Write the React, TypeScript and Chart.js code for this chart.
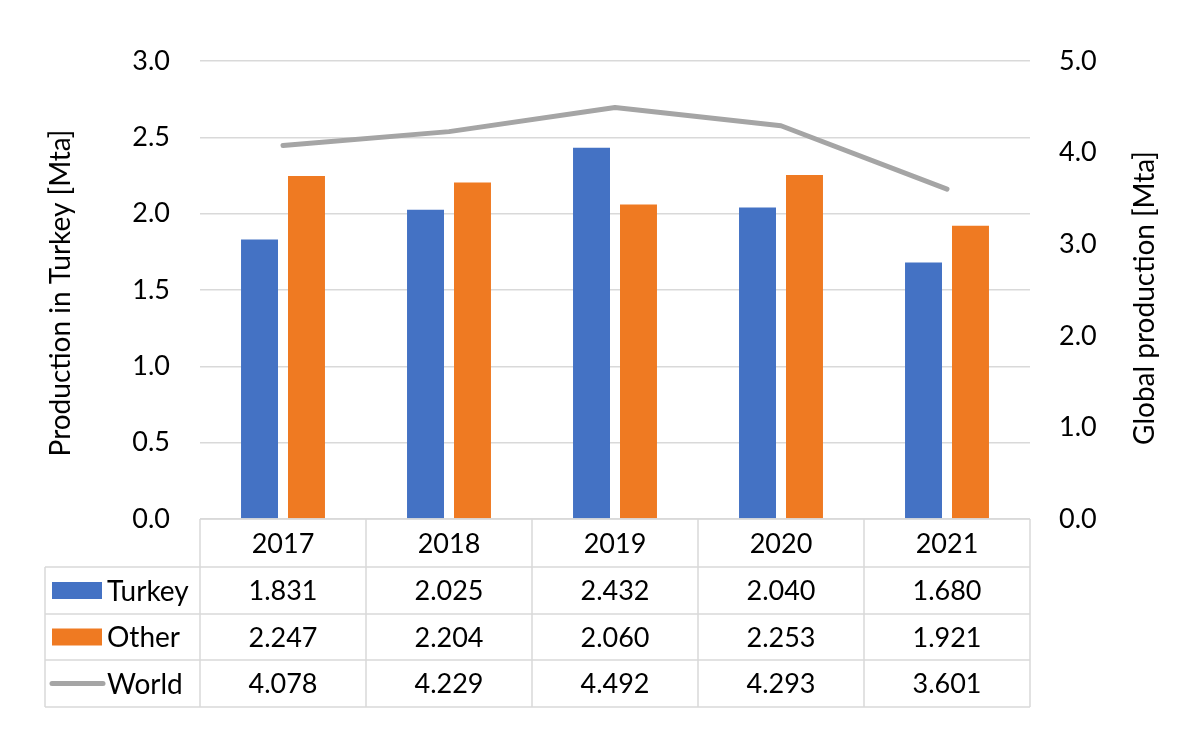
import React, { useEffect, useRef } from 'react';
import { Chart, registerables } from 'chart.js';

Chart.register(...registerables);

const years = ['2017', '2018', '2019', '2020', '2021'];
const turkey = [1.831, 2.025, 2.432, 2.040, 1.680];
const other = [2.247, 2.204, 2.060, 2.253, 1.921];
const world = [4.078, 4.229, 4.492, 4.293, 3.601];
const seriesNames = ['Turkey', 'Other', 'World'];

const BLUE = '#4472C4';
const ORANGE = '#EF7A22';
const GRAY = '#A5A5A5';
const GRID = '#D9D9D9';
const FONT = 'Lato';

const tablePlugin = {
  id: 'dataTable',
  afterDraw(chart: any) {
    const ctx = chart.ctx;
    const xs = chart.scales.x;
    const area = chart.chartArea;
    const top = area.bottom;
    const rows = [top, top + 48, top + 95, top + 141, top + 188];
    const tableLeft = 45;
    const n = years.length;
    const colW = (area.right - area.left) / n;
    ctx.save();
    ctx.strokeStyle = GRID;
    ctx.lineWidth = 1.5;
    const line = (x1: number, y1: number, x2: number, y2: number) => {
      ctx.beginPath();
      ctx.moveTo(x1, y1);
      ctx.lineTo(x2, y2);
      ctx.stroke();
    };
    line(area.left, rows[0], area.right, rows[0]);
    for (let i = 1; i < rows.length; i++) line(tableLeft, rows[i], area.right, rows[i]);
    for (let j = 0; j <= n; j++) {
      const xj = area.left + j * colW;
      line(xj, rows[0], xj, rows[4]);
    }
    line(tableLeft, rows[1], tableLeft, rows[4]);

    ctx.fillStyle = '#000';
    ctx.font = `27px ${FONT}`;
    ctx.textAlign = 'center';
    ctx.textBaseline = 'middle';
    years.forEach((y, i) => {
      ctx.fillText(y, xs.getPixelForValue(i), (rows[0] + rows[1]) / 2 + 1);
    });
    const data = [turkey, other, world];
    data.forEach((arr, r) => {
      const cy = (rows[r + 1] + rows[r + 2]) / 2 + 1;
      arr.forEach((v, i) => {
        ctx.fillText(v.toFixed(3), xs.getPixelForValue(i), cy);
      });
    });
    // legend keys
    ctx.textAlign = 'left';
    ctx.font = `28px ${FONT}`;
    seriesNames.forEach((name, r) => {
      const cy = (rows[r + 1] + rows[r + 2]) / 2;
      if (r < 2) {
        ctx.fillStyle = r === 0 ? BLUE : ORANGE;
        ctx.fillRect(52, cy - 8.5, 50, 17);
      } else {
        ctx.strokeStyle = GRAY;
        ctx.lineWidth = 5;
        ctx.lineCap = 'round';
        line(52, cy, 103, cy);
      }
      ctx.fillStyle = '#000';
      ctx.fillText(name, 107, cy + 1);
    });

    // axis titles
    const midY = (area.top + area.bottom) / 2 + 3;
    ctx.textAlign = 'center';
    ctx.save();
    ctx.translate(61, midY);
    ctx.rotate(-Math.PI / 2);
    ctx.fillText('Production in Turkey [Mta]', 0, 0);
    ctx.restore();
    ctx.save();
    ctx.translate(1145, midY + 5);
    ctx.rotate(-Math.PI / 2);
    ctx.fillText('Global production [Mta]', 0, 0);
    ctx.restore();
    ctx.restore();
  },
};

export default function App() {
  const ref = useRef<HTMLCanvasElement | null>(null);
  useEffect(() => {
    document.body.style.margin = '0';
    let chart: Chart | null = null;
    let cancelled = false;
    const make = () => {
      if (cancelled || !ref.current) return;
      chart = new Chart(ref.current, {
        type: 'bar',
        data: {
          labels: years,
          datasets: [
            {
              type: 'line',
              label: 'World',
              data: world,
              yAxisID: 'y1',
              borderColor: GRAY,
              backgroundColor: GRAY,
              borderWidth: 5,
              pointRadius: 0,
              borderCapStyle: 'round',
              borderJoinStyle: 'round',
              tension: 0,
              order: 0,
            } as any,
            {
              label: 'Turkey',
              data: turkey,
              backgroundColor: BLUE,
              yAxisID: 'y',
              order: 1,
              categoryPercentage: 0.566,
              barPercentage: 0.787,
            },
            {
              label: 'Other',
              data: other,
              backgroundColor: ORANGE,
              yAxisID: 'y',
              order: 1,
              categoryPercentage: 0.566,
              barPercentage: 0.787,
            },
          ],
        },
        options: {
          responsive: false,
          animation: false,
          devicePixelRatio: 1,
          layout: { autoPadding: false, padding: { top: 61, bottom: 235, left: 0, right: 0 } },
          plugins: { legend: { display: false }, tooltip: { enabled: false } },
          scales: {
            x: { display: false, offset: true },
            y: {
              position: 'left',
              min: 0,
              max: 3,
              ticks: {
                stepSize: 0.5,
                padding: 30,
                color: '#000',
                font: { family: FONT, size: 27 },
                callback: (v: any) => Number(v).toFixed(1),
              },
              grid: { color: GRID, lineWidth: 1.5, drawTicks: false },
              border: { display: false },
              afterFit: (s: any) => {
                s.width = 200;
              },
            },
            y1: {
              position: 'right',
              min: 0,
              max: 5,
              ticks: {
                stepSize: 1,
                padding: 29,
                color: '#000',
                font: { family: FONT, size: 27 },
                callback: (v: any) => Number(v).toFixed(1),
              },
              grid: { display: false, drawTicks: false },
              border: { display: false },
              afterFit: (s: any) => {
                s.width = 170;
              },
            },
          },
        },
        plugins: [tablePlugin],
      });
    };
    const fonts: any = (document as any).fonts;
    if (fonts && fonts.load) {
      fonts.load(`27px ${FONT}`).then(make, make);
    } else make();
    return () => {
      cancelled = true;
      if (chart) chart.destroy();
    };
  }, []);
  return <canvas ref={ref} width={1200} height={754} style={{ display: 'block', width: 1200, height: 754 }} />;
}
